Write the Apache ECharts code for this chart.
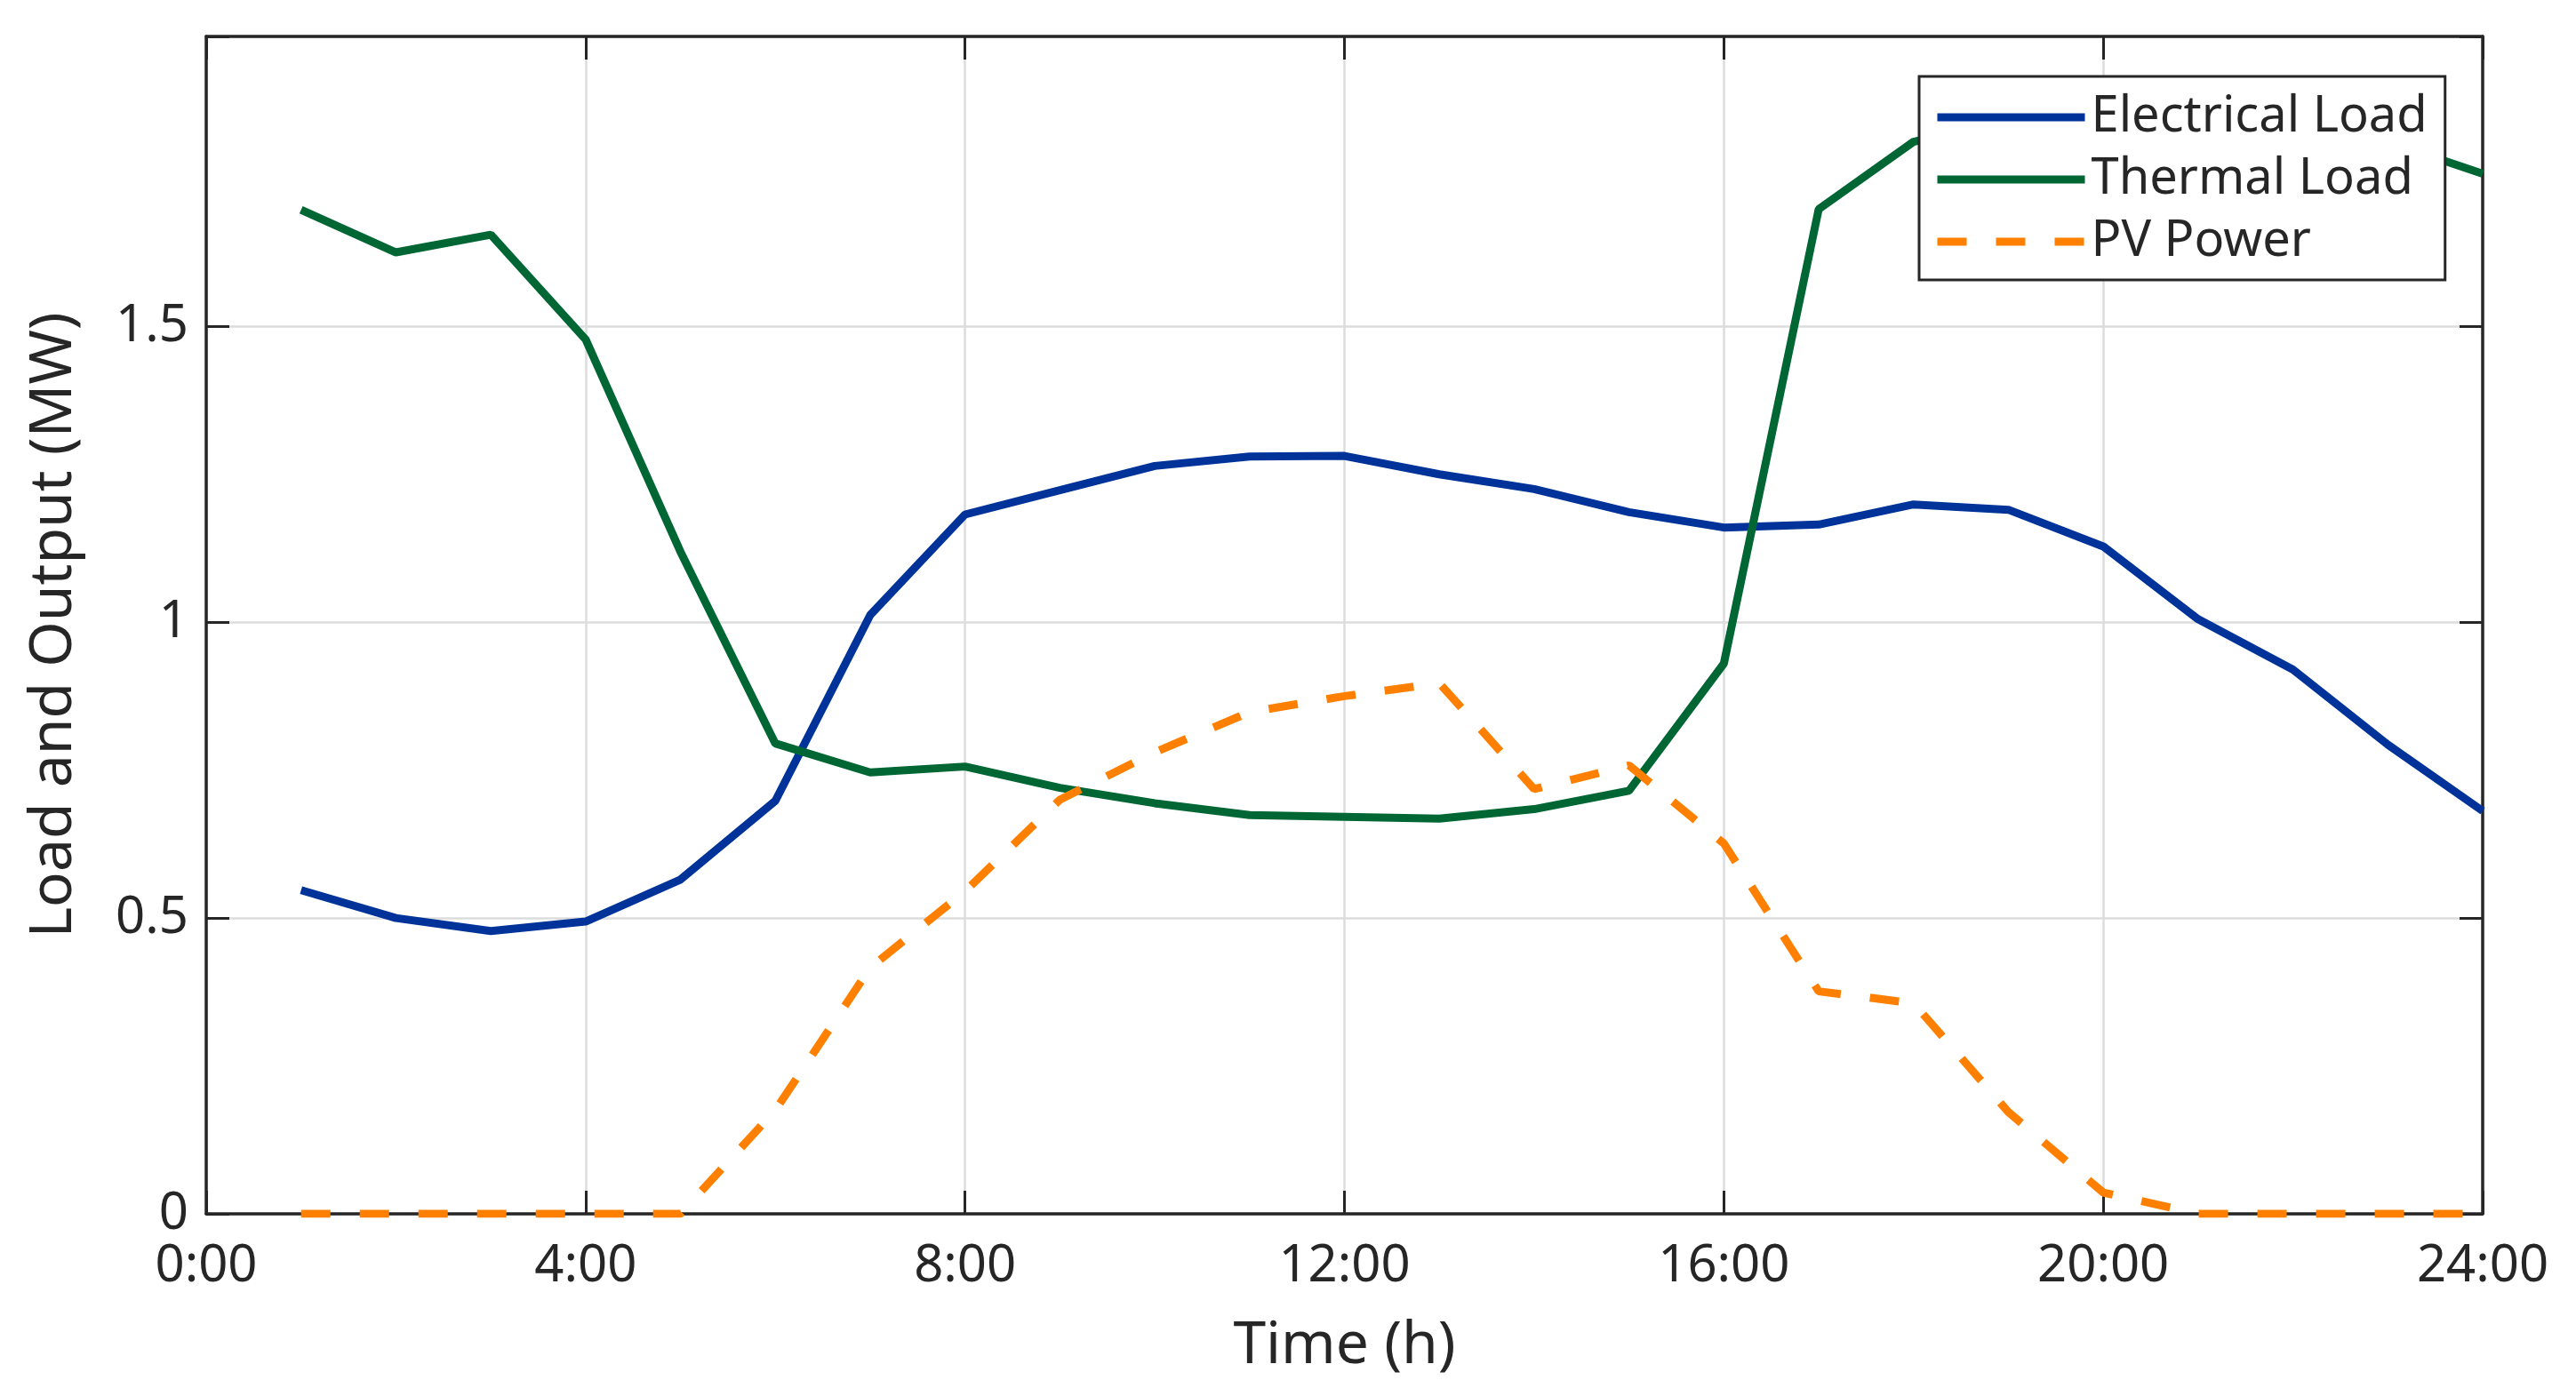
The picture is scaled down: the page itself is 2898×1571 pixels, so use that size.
<!DOCTYPE html>
<html>
<head>
<meta charset="utf-8">
<script src="https://cdn.jsdelivr.net/npm/echarts@6/dist/echarts.min.js"></script>
<style>
  html, body { margin: 0; padding: 0; background: #fff; }
  #chart { width: 2898px; height: 1571px; }
</style>
</head>
<body>
<div id="chart"></div>
<script>
// hours of the day (1..24)
const hours = [1, 2, 3, 4, 5, 6, 7, 8, 9, 10, 11, 12, 13, 14, 15, 16, 17, 18, 19, 20, 21, 22, 23, 24];

// MW
const electricalLoad = [0.547, 0.500, 0.478, 0.494, 0.565, 0.698, 1.012, 1.182, 1.223, 1.264, 1.280, 1.281,
  1.250, 1.225, 1.186, 1.160, 1.165, 1.199, 1.190, 1.128, 1.005, 0.920, 0.793, 0.681];
const thermalLoad = [1.697, 1.625, 1.655, 1.478, 1.119, 0.795, 0.746, 0.756, 0.720, 0.694, 0.674, 0.671,
  0.668, 0.684, 0.715, 0.930, 1.698, 1.812, 1.850, 1.880, 1.870, 1.840, 1.812, 1.758];
const pvPower = [0, 0, 0, 0, 0, 0.175, 0.416, 0.545, 0.700, 0.780, 0.848, 0.875,
  0.897, 0.718, 0.758, 0.626, 0.376, 0.356, 0.172, 0.036, 0, 0, 0, 0];

const seriesNames = ['Electrical Load', 'Thermal Load', 'PV Power'];
const seriesColors = ['#003399', '#006633', '#ff8000'];

const axisColor = '#262626';
const fontFamily = 'Noto Sans';

function pairs(values) {
  return hours.map((h, i) => [h, values[i]]);
}

const chart = echarts.init(document.getElementById('chart'), null, { renderer: 'canvas' });

const tickStyle = { inside: true, length: 26, lineStyle: { color: axisColor, width: 3 } };
const lineStyleAxis = { show: true, onZero: false, lineStyle: { color: axisColor, width: 3.5 } };

const option = {
  animation: false,
  backgroundColor: '#ffffff',
  grid: {
    left: 232, right: 105, top: 41, bottom: 205,
    outerBoundsMode: 'none'
  },
  legend: {
    orient: 'vertical',
    left: 2159,
    top: 86,
    data: seriesNames,
    itemWidth: 166,
    itemHeight: 1,   // keeps the default legend dot buried in the line
    itemGap: 14,
    padding: [18, 20, 15, 16],
    backgroundColor: '#ffffff',
    borderColor: axisColor,
    borderWidth: 3,
    borderRadius: 0,
    lineStyle: { width: 9 },
    textStyle: {
      fontFamily: fontFamily,
      fontSize: 56,
      color: axisColor,
      padding: [0, 0, 0, 2]
    }
  },
  xAxis: [
    {
      type: 'value',
      min: 0,
      max: 24,
      interval: 4,
      name: 'Time (h)',
      nameLocation: 'middle',
      nameGap: 116,
      nameTextStyle: { fontFamily: fontFamily, fontSize: 66, color: axisColor },
      axisLine: lineStyleAxis,
      axisTick: tickStyle,
      axisLabel: {
        margin: 30,
        fontFamily: fontFamily,
        fontSize: 58,
        color: axisColor,
        formatter: v => v + ':00'
      },
      splitLine: { show: true, lineStyle: { color: '#dcdcdc', width: 2.5 } }
    },
    {
      type: 'value',
      position: 'top',
      min: 0,
      max: 24,
      interval: 4,
      axisLine: lineStyleAxis,
      axisTick: tickStyle,
      axisLabel: { show: false },
      splitLine: { show: false }
    }
  ],
  yAxis: [
    {
      type: 'value',
      min: 0,
      max: 1.99,
      interval: 0.5,
      name: 'Load and Output (MW)',
      nameLocation: 'middle',
      nameGap: 138,
      nameTextStyle: { fontFamily: fontFamily, fontSize: 66, color: axisColor },
      axisLine: lineStyleAxis,
      axisTick: tickStyle,
      axisLabel: {
        margin: 20,
        fontFamily: fontFamily,
        fontSize: 58,
        color: axisColor,
        formatter: v => (Math.abs(v * 2 - Math.round(v * 2)) < 1e-6 ? String(v) : '')
      },
      splitLine: { show: true, lineStyle: { color: '#dcdcdc', width: 2.5 } }
    },
    {
      type: 'value',
      position: 'right',
      min: 0,
      max: 1.99,
      interval: 0.5,
      axisLine: lineStyleAxis,
      axisTick: tickStyle,
      axisLabel: { show: false },
      splitLine: { show: false }
    }
  ],
  series: [
    {
      name: seriesNames[0],
      type: 'line',
      data: pairs(electricalLoad),
      symbol: 'none',
      color: seriesColors[0],
      lineStyle: { width: 9, color: seriesColors[0] }
    },
    {
      name: seriesNames[1],
      type: 'line',
      data: pairs(thermalLoad),
      symbol: 'none',
      color: seriesColors[1],
      lineStyle: { width: 9, color: seriesColors[1] }
    },
    {
      name: seriesNames[2],
      type: 'line',
      data: pairs(pvPower),
      symbol: 'none',
      color: seriesColors[2],
      lineStyle: { width: 9, color: seriesColors[2], type: [33, 33], cap: 'butt' }
    }
  ]
};

chart.setOption(option);
</script>
</body>
</html>
